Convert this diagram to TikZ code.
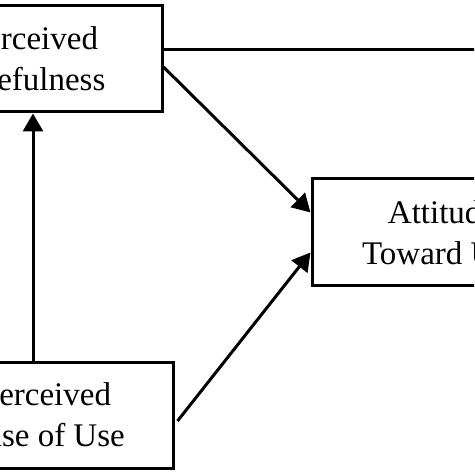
\documentclass[tikz,border=0pt]{standalone}
\usepackage{fontspec}
\setmainfont{Liberation Serif}
\usetikzlibrary{arrows.meta}
\begin{document}
\begin{tikzpicture}[x=0.5pt,y=-0.5pt]

    \tikzset{
      construct/.style={
        draw,
        line width=1.5pt,
        inner sep=0pt,
        align=center,
        font=\fontsize{16.5}{20.5}\selectfont,
        execute at begin node=\rule{0pt}{15.6pt},
      },
      path/.style={
        line width=1.5pt,
        -{Triangle[length=9pt,width=10pt]},
      },
    }
    \useasboundingbox (0,0) rectangle (474,474);
    \clip (0,0) rectangle (474,474);
	\node[construct, minimum width=129pt, minimum height=53pt] (pu) at (33,59) {Perceived\\Usefulness};
	\node[construct, minimum width=130pt, minimum height=53.5pt] (att) at (442,232.5) {Attitude\\Toward Use};
	\node[construct, minimum width=127pt, minimum height=53pt] (peou) at (46,415) {Perceived\\Ease of Use};
	\coordinate (bi) at (520,50);
	\coordinate (up) at (pu.south);
	\draw[line width=1.5pt] ([yshift=4.5pt]pu.east) -- (bi);
	\draw[path] ([yshift=-4pt]pu.east) -- ([yshift=10pt]att.west);
	\draw[path] ([xshift=1.5pt,yshift=-3pt]peou.east) -- ([yshift=-10pt]att.west);
	\draw[path] (peou.north -| up) -- (up);

\end{tikzpicture}
\end{document}
